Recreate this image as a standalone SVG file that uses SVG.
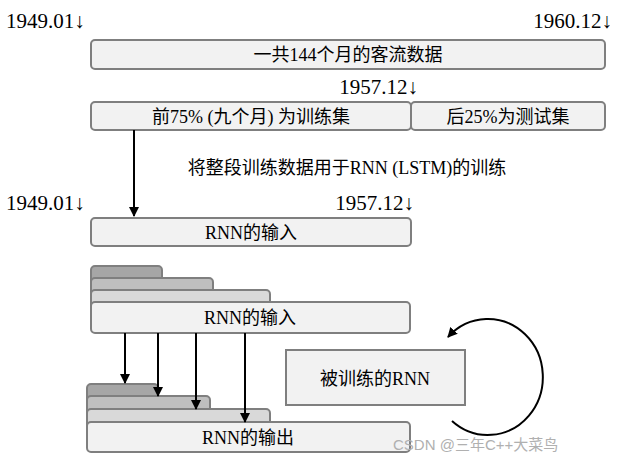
<svg xmlns="http://www.w3.org/2000/svg" width="617" height="464" viewBox="0 0 617 464">
<defs><marker id="ah" markerWidth="10" markerHeight="10" refX="9" refY="5" orient="auto" markerUnits="userSpaceOnUse"><path d="M0,0 L10,5 L0,10 Z" fill="#000"/></marker></defs>
<style>
.b{fill:#f2f2f2;stroke:#7f7f7f;stroke-width:2}
.d{fill:#a6a6a6;stroke:#7f7f7f;stroke-width:2}
.m{fill:#bfbfbf;stroke:#7f7f7f;stroke-width:2}
.l{fill:#d9d9d9;stroke:#7f7f7f;stroke-width:2}
text{font-family:"Liberation Serif","Noto Sans CJK SC",serif;font-size:18px;fill:#000}
.dt{font-size:21px}
.c{text-anchor:middle}
.w{stroke:#000;stroke-width:2;fill:none}
</style>
<rect width="617" height="464" fill="#fff"/>
<g id="labels">
<text class="dt" x="6" y="28">1949.01↓</text>
<text class="dt" x="612" y="28" text-anchor="end">1960.12↓</text>
<text class="dt" x="418" y="94" text-anchor="end">1957.12↓</text>
<text x="347" y="174" class="c">将整段训练数据用于RNN (LSTM)的训练</text>
<text class="dt" x="6" y="210">1949.01↓</text>
<text class="dt" x="414" y="210" text-anchor="end">1957.12↓</text>
</g>
<g id="all"><rect class="b" x="91" y="40" width="514" height="29" rx="4"/><text x="348" y="61" class="c">一共144个月的客流数据</text></g>
<g id="train"><rect class="b" x="91" y="102" width="320" height="28" rx="4"/><text x="251" y="123" class="c">前75% (九个月) 为训练集</text></g>
<g id="test"><rect class="b" x="411" y="102" width="194" height="28" rx="4"/><text x="508" y="123" class="c">后25%为测试集</text></g>
<g id="input1"><rect class="b" x="91" y="218" width="320" height="28" rx="4"/><text x="251" y="239" class="c">RNN的输入</text></g>
<g id="input2">
<rect class="d" x="91" y="266" width="71" height="40" rx="4"/>
<rect class="m" x="91" y="278" width="122" height="30" rx="4"/>
<rect class="l" x="91" y="290" width="179" height="20" rx="4"/>
<rect class="b" x="91" y="302" width="319" height="31" rx="4"/><text x="250" y="324" class="c">RNN的输入</text></g>
<g id="output">
<rect class="d" x="87" y="384" width="71" height="40" rx="4"/>
<rect class="m" x="87" y="396" width="123" height="30" rx="4"/>
<rect class="l" x="87" y="409" width="183" height="20" rx="4"/>
<rect class="b" x="87" y="422" width="323" height="30" rx="4"/><text x="248" y="444" class="c">RNN的输出</text></g>
<g id="rnn"><rect class="b" x="286" y="350" width="179" height="55"/><text x="375" y="385" class="c">被训练的RNN</text></g>
<g id="connectors">
<line class="w" x1="134" y1="130" x2="134" y2="216" marker-end="url(#ah)"/>
<line class="w" x1="125" y1="333" x2="125" y2="383" marker-end="url(#ah)"/>
<line class="w" x1="158" y1="333" x2="158" y2="396" marker-end="url(#ah)"/>
<line class="w" x1="196" y1="333" x2="196" y2="409" marker-end="url(#ah)"/>
<line class="w" x1="245" y1="333" x2="245" y2="422" marker-end="url(#ah)"/>
<path class="w" stroke-width="2.5" d="M452,421 A55,58 0 1 0 448,337" marker-end="url(#ah)"/>
</g>
<text x="393" y="450" style="font-family:'Liberation Sans','Noto Sans CJK SC',sans-serif;font-size:15px;fill:#b0b0b0">CSDN @三年C++大菜鸟</text>
</svg>
